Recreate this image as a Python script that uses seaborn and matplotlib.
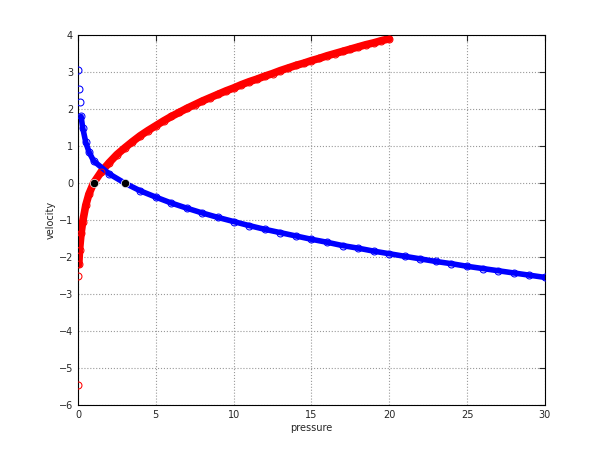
import matplotlib
matplotlib.use("Agg")
import matplotlib.pyplot as plt
import seaborn as sns

red_p = [0.001,0.02,0.05,0.1,0.2,0.3,0.5,0.7,1,1.5,2,2.5,3,3.5,4,4.5,5,5.5,6,6.5,7,7.5,8,8.5,9,9.5,10,
         10.5,11,11.5,12,12.5,13,13.5,14,14.5,15,15.5,16,16.5,17,17.5,18,18.5,19,19.5,20]
red_u = [-5.45,-2.5,-2.2,-1.8,-1.35,-1.05,-0.6,-0.3,0,0.31,0.55,0.77,0.95,1.12,1.28,1.42,1.55,1.68,1.80,1.91,2.02,2.12,2.22,2.31,2.40,2.49,2.57,
         2.66,2.74,2.81,2.89,2.96,3.04,3.11,3.18,3.24,3.31,3.37,3.44,3.50,3.56,3.62,3.68,3.74,3.79,3.85,3.9]
blue_p = [0.001,0.05,0.1,0.2,0.3,0.5,0.7,1,2,3,4,5,6,7,8,9,10,11,12,13,14,15,16,17,18,19,20,21,22,23,24,25,26,27,28,29,30]
blue_u = [3.05,2.55,2.2,1.8,1.5,1.1,0.85,0.60,0.25,0,-0.21,-0.38,-0.54,-0.68,-0.81,-0.93,-1.04,-1.15,-1.25,-1.34,-1.43,-1.52,
          -1.60,-1.69,-1.76,-1.84,-1.91,-1.98,-2.05,-2.12,-2.18,-2.25,-2.31,-2.37,-2.43,-2.49,-2.55]
dot_p = [1, 3]
dot_u = [0, 0]

sns.set_style("white")
fig = plt.figure(figsize=(6, 4.5), dpi=100)
ax = fig.add_axes([0.13, 0.10, 0.778, 0.822])

# dense bands (overlapping circles in the reference)
ax.plot(red_p[2:], red_u[2:], color="red", linewidth=5.5, solid_capstyle="round", zorder=2)
ax.plot(blue_p[3:], blue_u[3:], color="blue", linewidth=4, solid_capstyle="round", zorder=2)
sns.lineplot(x=red_p, y=red_u, ax=ax, color="red", linestyle="none", marker="o",
             markersize=5, markerfacecolor="none", markeredgecolor="red", sort=False, zorder=3)
sns.lineplot(x=blue_p, y=blue_u, ax=ax, color="blue", linestyle="none", marker="o",
             markersize=5, markerfacecolor="none", markeredgecolor="blue", sort=False, zorder=3)
sns.scatterplot(x=dot_p, y=dot_u, ax=ax, color="black", s=35, zorder=5)

ax.set_xlim(0, 30)
ax.set_ylim(-6, 4)
ax.set_xticks(range(0, 31, 5))
ax.set_yticks(range(-6, 5))
ax.grid(True, linestyle=":", color="#999999", linewidth=0.8)
ax.tick_params(direction="in", labelsize=7, length=4, top=True, right=True)
for s in ax.spines.values():
    s.set_color("black"); s.set_linewidth(0.8)
ax.set_xlabel("pressure", fontsize=7, labelpad=2)
ax.set_ylabel("velocity", fontsize=7, labelpad=2)
fig.savefig("out.png", dpi=100)
